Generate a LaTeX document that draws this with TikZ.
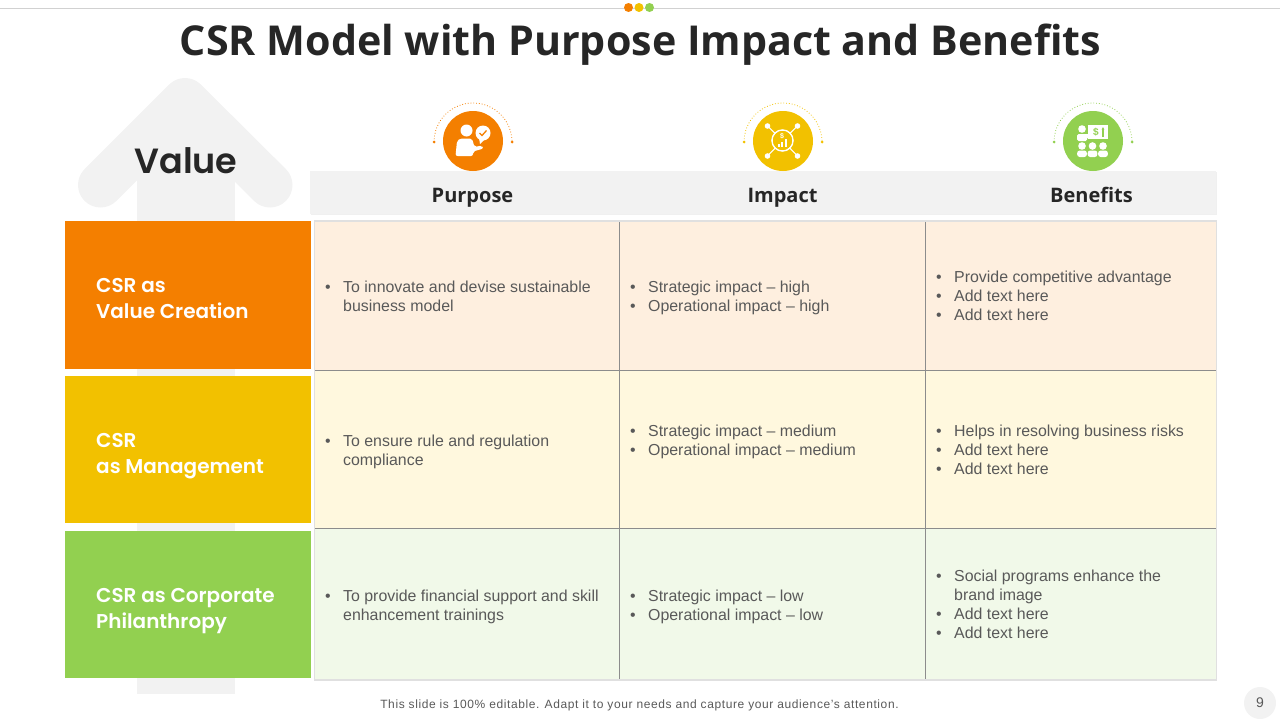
\documentclass[tikz,border=0pt]{standalone}
\usepackage{fontspec}
\setmainfont{Liberation Sans}
\newfontfamily\titlef{Open Sans}
\newfontfamily\popf{Poppins SemiBold}
\usetikzlibrary{shadows,arrows.meta}
\definecolor{corange}{HTML}{F47F00}
\definecolor{cyellow}{HTML}{F2C100}
\definecolor{cgreen}{HTML}{92D050}
\definecolor{lorange}{HTML}{FEEFDF}
\definecolor{lyellow}{HTML}{FFF8DE}
\definecolor{lgreen}{HTML}{F1F9E9}
\definecolor{band}{HTML}{F2F2F2}
\definecolor{txt}{HTML}{595959}
\definecolor{dark}{HTML}{262626}
\newcommand{\blist}[1]{\begin{tabular}{@{}p{18pt}@{}l@{}}#1\end{tabular}}
\newcommand{\fs}[2]{\fontsize{#1}{#2}\selectfont}
\tikzset{
  x=1pt,y=-1pt,
  sidebox/.style={anchor=north west,inner sep=0pt,minimum width=246pt},
  sidetext/.style={anchor=west,inner sep=0pt,align=left,text=white,font=\popf\fs{20}{26}},
  cellbox/.style={anchor=north west,inner sep=0pt,draw=gray!90},
  celltext/.style={anchor=west,inner sep=0pt,text=txt,font=\fs{15.9}{19}},
  headtext/.style={anchor=base,inner sep=0pt,text=dark,font=\titlef\bfseries\fs{20}{24}},
  disc/.style={circle,inner sep=0pt,minimum size=60pt},
  dotarc/.style={line width=0.8pt,dotted},
  ic/.style={fill=white,draw=none},
}
\begin{document}
\begin{tikzpicture}
\useasboundingbox (0,0) rectangle (1280,720);
% top rule
\draw[line width=0.8pt,black!18] (0,8.5) -- (1280,8.5);
\fill[corange] (628.5,7.5) circle (4.5);
\fill[cyellow] (639,7.5) circle (4.5);
\fill[cgreen] (649.5,7.5) circle (4.5);
\node[anchor=base,inner sep=0pt,text=dark,font=\titlef\bfseries\fs{41.2}{50}] (title) at (640.5,55.5) {CSR Model with Purpose Impact and Benefits};
% big arrow
\draw[band,line width=45pt,line cap=round,line join=round] (100.5,185) -- (185,100.5) -- (270,185);
\fill[band] (137,125) rectangle (235,694);
\node[inner sep=0pt,text=dark,font=\popf\fs{35}{40}] (value) at (186,161) {Value};
% header band
\node[anchor=north west,inner sep=0pt,minimum width=906pt,minimum height=43pt,fill=band,drop shadow={shadow xshift=1pt,shadow yshift=-1pt,opacity=.12}] (hband) at (310,171) {};
\node[headtext] (hp) at (472.5,202) {Purpose};
\node[headtext] (hi) at (782.5,202) {Impact};
\node[headtext] (hb) at (1091.5,202) {Benefits};
% side boxes
\node[sidebox,fill=corange,minimum height=148pt] (s1) at (65,221) {};
\node[sidebox,fill=cyellow,minimum height=147pt] (s2) at (65,376) {};
\node[sidebox,fill=cgreen,minimum height=147pt] (s3) at (65,531) {};
\node[sidetext] (s1t) at (96,298.5) {CSR as\\Value Creation};
\node[sidetext] (s2t) at (96,456) {CSR\\as Management};
\node[sidetext] (s3t) at (96,611) {CSR as Corporate\\Philanthropy};
% table cells
\foreach \nm/\xa/\cw/\ya/\ch/\col in {
  a1/314/305/220.6/149.5/lorange, a2/619/306/220.6/149.5/lorange, a3/925/291/220.6/149.5/lorange,
  b1/314/305/370.2/157.5/lyellow, b2/619/306/370.2/157.5/lyellow, b3/925/291/370.2/157.5/lyellow,
  c1/314/305/527.7/152/lgreen, c2/619/306/527.7/152/lgreen, c3/925/291/527.7/152/lgreen}{
  \node[cellbox,fill=\col,minimum width=\cw pt,minimum height=\ch pt] (\nm) at (\xa,\ya) {};
}
% light outer edges of the table
\draw[line width=1.4pt,black!12] (314.5,221) -- (1216.5,221) -- (1216.5,680) -- (314.5,680) -- cycle;
% cell texts
\node[celltext] (a1t) at (325,298) {\blist{•&To innovate and devise sustainable\\&business model}};
\node[celltext] (a2t) at (630,298) {\blist{•&Strategic impact – high\\•&Operational impact – high}};
\node[celltext] (a3t) at (936,298) {\blist{•&Provide competitive advantage\\•&Add text here\\•&Add text here}};
\node[celltext] (b1t) at (325,452) {\blist{•&To ensure rule and regulation\\&compliance}};
\node[celltext] (b2t) at (630,442) {\blist{•&Strategic impact – medium\\•&Operational impact – medium}};
\node[celltext] (b3t) at (936,451.5) {\blist{•&Helps in resolving business risks\\•&Add text here\\•&Add text here}};
\node[celltext] (c1t) at (325,607) {\blist{•&To provide financial support and skill\\&enhancement trainings}};
\node[celltext] (c2t) at (630,607) {\blist{•&Strategic impact – low\\•&Operational impact – low}};
\node[celltext] (c3t) at (936,606.5) {\blist{•&Social programs enhance the\\&brand image\\•&Add text here\\•&Add text here}};
% icon discs and dotted arcs
\node[disc,fill=corange] (d1) at (473,141) {};
\node[disc,fill=cyellow] (d2) at (783,141) {};
\node[disc,fill=cgreen] (d3) at (1093,141) {};
\foreach \cx/\col in {473/corange,783/cyellow,1093/cgreen}{
  \draw[dotarc,\col] (\cx-39,142) arc[start angle=180,end angle=360,radius=39];
  \fill[\col] (\cx-39,142) circle (1.5);
  \fill[\col] (\cx+39,142) circle (1.5);
}
% icon 1 : person with speech bubble
\fill[ic] (466.5,130.5) circle (6);
\fill[ic,rounded corners=2pt] (455.5,156) -- (457,141) -- (460,138.5) -- (472,138.5) -- (474.5,147) -- (482,145.5) -- (483.5,148.5) -- (473,151.5) -- (473,156) -- cycle;
\fill[ic] (483,133) circle (7.5);
\fill[ic] (479,138) -- (480,144) -- (485,139) -- cycle;
\draw[corange,line width=1.3pt] (479.5,133) -- (482,135.5) -- (486.5,130.5);
% icon 2 : hub
\draw[white,line width=1.5pt] (782.5,140.5) circle (10.5);
\foreach \dx/\dy in {-15/-14.5,15/-14.5,-15/15.5,15/15.5}{
  \draw[white,line width=1.1pt] (782.5+\dx*0.45,140.5+\dy*0.45) -- (782.5+\dx,140.5+\dy);
  \fill[white] (782.5+\dx,140.5+\dy) circle (2.8);
}
\fill[cyellow] (782.5,140.5) circle (9.5);
\fill[white] (777.5,144) rectangle (779.5,147);
\fill[white] (781,141.5) rectangle (783,147);
\fill[white] (784.5,139) rectangle (786.5,147);
\node[inner sep=0pt,text=white,font=\bfseries\fs{7}{8}] (dol) at (782,136) {\$};
% icon 3 : teacher and audience
\fill[white] (1088,125) rectangle (1108,139);
\node[inner sep=0pt,text=cgreen,font=\bfseries\fs{10}{11}] (dol3) at (1096,132) {\$};
\draw[cgreen,line width=1.2pt,-{Latex[length=2.5pt,width=3pt]}] (1103,137) -- (1103,127);
\fill[white] (1082,129) circle (3.8);
\fill[white,rounded corners=1.5pt] (1077,141) -- (1077,134) -- (1090,134) -- (1090,137) -- (1087,137) -- (1087,141) -- cycle;
\foreach \px in {1082,1092.5,1103}{
  \fill[white] (\px,146) circle (3.8);
  \fill[white,rounded corners=2.5pt] (\px-4.8,157) -- (\px-4.8,150.5) -- (\px+4.8,150.5) -- (\px+4.8,157) -- cycle;
}
% footer
\node[inner sep=0pt,text=txt,font=\fs{12}{14}] (foot) at (639.5,705) {\addfontfeatures{LetterSpace=5}This slide is 100\% editable. Adapt it to your needs and capture your audience's attention.};
\node[circle,fill=band,inner sep=0pt,minimum size=32pt,text=txt,font=\fs{14}{16}] (page) at (1260,703) {9};
\end{tikzpicture}
\end{document}
